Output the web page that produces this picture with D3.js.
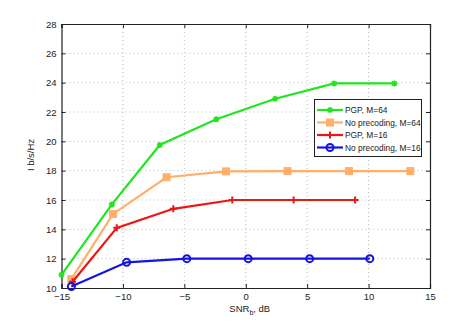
<!DOCTYPE html>
<html><head><meta charset="utf-8">
<script src="https://cdn.jsdelivr.net/npm/d3@7"></script>
<style>body{margin:0;background:#fff}svg{display:block}text{font-family:"Liberation Sans",Arial,sans-serif}</style>
</head><body>
<script>
const xTicks = [-15,-10,-5,0,5,10,15];
const yTicks = [10,12,14,16,18,20,22,24,26,28];
const seriesNames = ["PGP, M=64","No precoding, M=64","PGP, M=16","No precoding, M=16"];
const pgp64X = [-15,-10.9,-7,-2.4,2.4,7.2,12.1];
const pgp64Y = [10.9,15.7,19.75,21.5,22.9,23.95,23.95];
const nop64X = [-14.2,-10.8,-6.45,-1.6,3.4,8.4,13.4];
const nop64Y = [10.6,15.05,17.55,17.95,17.97,17.97,17.97];
const pgp16X = [-14.1,-10.5,-5.9,-1.1,3.9,8.9];
const pgp16Y = [10.43,14.1,15.4,16.0,16.0,16.0];
const nop16X = [-14.2,-9.7,-4.8,0.2,5.2,10.1];
const nop16Y = [10.1,11.75,12.0,12.0,12.0,12.0];

const W=474,H=324, L=61.5, R=430, T=24, B=288;
const svg=d3.select("body").append("svg").attr("width",W).attr("height",H);
const x=d3.scaleLinear().domain([-15,15]).range([L,R]);
const y=d3.scaleLinear().domain([10,28]).range([B,T]);

// grid
const g=svg.append("g");
g.selectAll(".gx").data(xTicks.slice(1,-1)).enter().append("line")
 .attr("x1",d=>x(d)).attr("x2",d=>x(d)).attr("y1",T).attr("y2",B)
 .attr("stroke","#bbb").attr("stroke-width",1).attr("stroke-dasharray","1,3");
g.selectAll(".gy").data(yTicks.slice(1,-1)).enter().append("line")
 .attr("y1",d=>y(d)).attr("y2",d=>y(d)).attr("x1",L).attr("x2",R)
 .attr("stroke","#bbb").attr("stroke-width",1).attr("stroke-dasharray","1,3");

// axes
const xa=svg.append("g").attr("transform",`translate(0,${B})`)
 .call(d3.axisBottom(x).tickValues(xTicks).tickSize(-4).tickPadding(5).tickFormat(d=>d<0?"\u2212"+(-d):d));
const xt=svg.append("g").attr("transform",`translate(0,${T})`)
 .call(d3.axisTop(x).tickValues(xTicks).tickSize(-4).tickFormat(""));
const ya=svg.append("g").attr("transform",`translate(${L},0)`)
 .call(d3.axisLeft(y).tickValues(yTicks).tickSize(-4).tickPadding(5));
const yr=svg.append("g").attr("transform",`translate(${R},0)`)
 .call(d3.axisRight(y).tickValues(yTicks).tickSize(-4).tickFormat(""));
[xa,xt,ya,yr].forEach(a=>{a.selectAll("path").attr("stroke","#222").attr("stroke-width",1.2);
 a.selectAll("line").attr("stroke","#222");
 a.selectAll("text").attr("font-size",9.5).attr("fill","#222");});

// labels
const xl=svg.append("text").attr("x",x(0)+4).attr("y",312).attr("text-anchor","middle").attr("font-size",9.5).attr("fill","#222");
xl.append("tspan").text("SNR");
xl.append("tspan").attr("font-size",7).attr("dy",3).text("b");
xl.append("tspan").attr("dy",-3).text(", dB");
svg.append("text").attr("transform",`translate(34,155) rotate(-90)`).attr("text-anchor","middle")
 .attr("font-size",9.5).attr("fill","#222").text("I b/s/Hz");

const series=[
 {name:seriesNames[0],xs:pgp64X,ys:pgp64Y,color:"#1fe61f",marker:"star"},
 {name:seriesNames[1],xs:nop64X,ys:nop64Y,color:"#ffaf6a",marker:"square"},
 {name:seriesNames[2],xs:pgp16X,ys:pgp16Y,color:"#ee1515",marker:"plus"},
 {name:seriesNames[3],xs:nop16X,ys:nop16Y,color:"#1414e0",marker:"circle"}
];
function drawMarker(sel,m,color,cx,cy){
 if(m==="circle") sel.append("circle").attr("cx",cx).attr("cy",cy).attr("r",3.5).attr("fill","none").attr("stroke",color).attr("stroke-width",2);
 else if(m==="square") sel.append("rect").attr("x",cx-3.5).attr("y",cy-3.5).attr("width",7).attr("height",7).attr("fill",color).attr("stroke",color);
 else if(m==="plus") sel.append("path").attr("d",`M${cx-3.5},${cy}H${cx+3.5}M${cx},${cy-3.5}V${cy+3.5}`).attr("stroke",color).attr("stroke-width",2);
 else sel.append("path").attr("d",`M${cx-3},${cy}H${cx+3}M${cx},${cy-3}V${cy+3}M${cx-2.2},${cy-2.2}L${cx+2.2},${cy+2.2}M${cx-2.2},${cy+2.2}L${cx+2.2},${cy-2.2}`).attr("stroke",color).attr("stroke-width",1.6);
}
const line=d3.line().x(d=>x(d[0])).y(d=>y(d[1]));
series.forEach(s=>{
 const pts=s.xs.map((v,i)=>[v,s.ys[i]]);
 svg.append("path").datum(pts).attr("d",line).attr("fill","none").attr("stroke",s.color).attr("stroke-width",2.2);
 const mg=svg.append("g");
 pts.forEach(p=>drawMarker(mg,s.marker,s.color,x(p[0]),y(p[1])));
});

// legend
const lg=svg.append("g");
lg.append("rect").attr("x",314.5).attr("y",99.5).attr("width",107).attr("height",57).attr("fill","#fff").attr("stroke","#222").attr("stroke-width",1);
const rowY=[110,122.5,135,147.5];
series.forEach((s,i)=>{
 lg.append("line").attr("x1",317).attr("x2",343).attr("y1",rowY[i]).attr("y2",rowY[i]).attr("stroke",s.color).attr("stroke-width",2.2);
 drawMarker(lg,s.marker,s.color,330,rowY[i]);
 lg.append("text").attr("x",345).attr("y",rowY[i]+3.2).attr("font-size",8.4).attr("fill","#222").text(s.name);
});
</script>
</body></html>
